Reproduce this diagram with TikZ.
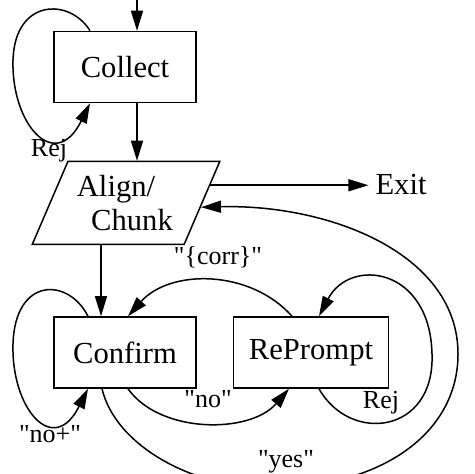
\documentclass[tikz,border=0pt]{standalone}
\usepackage{fontspec}
\setmainfont{Liberation Serif}[Ligatures=TeXOff]
\usetikzlibrary{positioning,shapes.geometric,arrows.meta,calc}

\tikzset{
	state/.style={draw, line width=0.75pt, minimum width=71pt, minimum height=35.5pt, inner sep=0pt, font=\fontsize{15.3}{18}\selectfont},
	chunkbox/.style={draw, line width=0.75pt, trapezium, trapezium left angle=61.5, trapezium right angle=118.5, trapezium stretches=true, minimum width=94pt, minimum height=41.5pt, inner sep=0pt, align=center, font=\fontsize{15.3}{17}\selectfont},
	edgelbl/.style={anchor=base, inner sep=0pt, font=\fontsize{13}{15}\selectfont},
	arc/.style={line width=0.75pt, -{Triangle[length=10pt,width=6pt]}},
}

\begin{document}
\begin{tikzpicture}[x=0.5pt,y=0.5pt]
		\useasboundingbox (0,0) rectangle (474,474);

		\node[state]                              (collect)  at (125,407) {Collect};
		\node[chunkbox]                           (align)    at (126,271) {Align/\hspace*{10pt}\\\hspace*{6pt}Chunk};
		\node[state, below=106.5pt of collect]    (confirm)  {Confirm};
		\node[state, right=18pt of confirm, minimum width=77.5pt] (reprompt) {RePrompt};
		\node[anchor=base, font=\fontsize{15.3}{18}\selectfont] (exit) at (401,279) {Exit};

		\coordinate (entry) at (137,480);
		\coordinate (exitstart) at ($(align.top right corner)!0.29!(align.bottom right corner)$);
		\coordinate (yesend) at ($(align.top right corner)!0.55!(align.bottom right corner)$);

		\draw[arc] (entry) -- (entry |- collect.north);
		\draw[arc] (entry |- collect.south) -- (entry |- align.north);
		\draw[arc] ([xshift=-12pt]confirm.north |- align.south) -- ([xshift=-12pt]confirm.north);
		\draw[arc] (exitstart) -- (exitstart -| exit.west);

		\draw[arc] ([xshift=-17.5pt]collect.north) .. controls (70,476) and (15,476) .. (13,414)
			.. controls (11,350) and (55,300) .. ([xshift=-17.5pt]collect.south);
		\draw[arc] ([xshift=-18.5pt]confirm.north) .. controls (68,197) and (15,197) .. (13,130)
			.. controls (11,66) and (53,16) .. ([xshift=-18.5pt]confirm.south);
		\draw[arc] ([xshift=-9.5pt]reprompt.north) .. controls (250,205) and (170,205) .. ([xshift=1.5pt]confirm.north);
		\draw[arc] ([xshift=1.5pt]confirm.south) .. controls (160,40) and (250,40) .. ([xshift=-11pt]reprompt.south);
		\draw[arc] ([xshift=4pt]reprompt.south) .. controls (350,30) and (435,40) .. (432,120)
			.. controls (430,207) and (350,217) .. ([xshift=4pt]reprompt.north);
		\draw[arc] ([xshift=-11.5pt]confirm.south) .. controls (115,30) and (190,-14) .. (270,-14)
			.. controls (380,-14) and (458,40) .. (458,120)
			.. controls (458,220) and (330,270) .. (yesend);

		\node[edgelbl] (rejcollect)  at (49,317)  {Rej};
		\node[edgelbl] (corr)        at (218,209) {"\{corr\}"};
		\node[edgelbl] (no)          at (208,66)  {"no"};
		\node[edgelbl] (noplus)      at (50,31)   {"no+"};
		\node[edgelbl] (rejreprompt) at (381,65)  {Rej};
		\node[edgelbl] (yes)         at (286,6)   {"yes"};
\end{tikzpicture}
\end{document}
